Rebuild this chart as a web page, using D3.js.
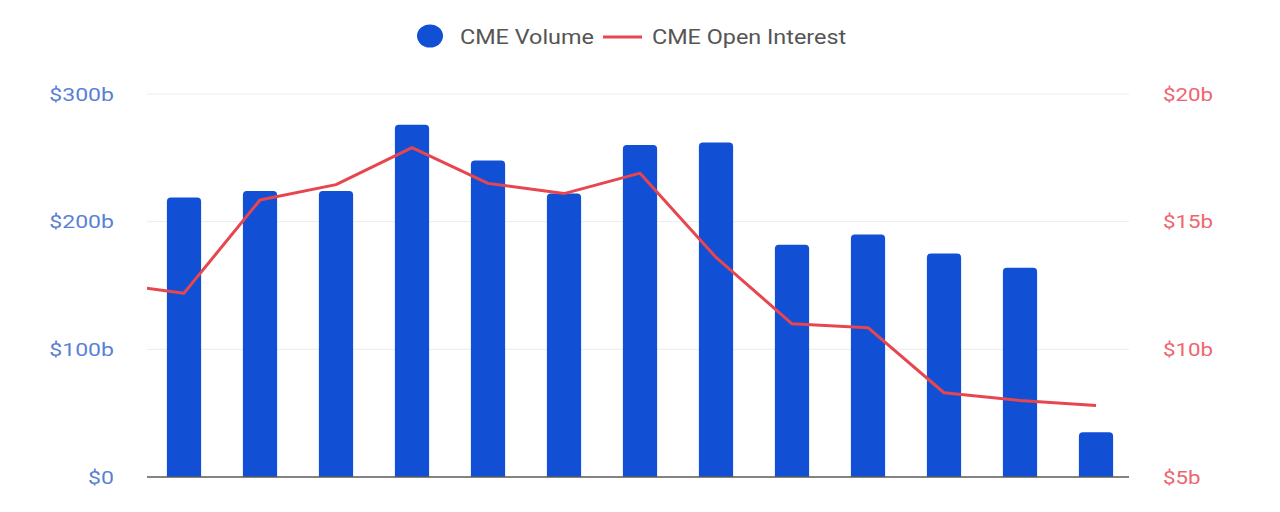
<!DOCTYPE html>
<html>
<head>
<meta charset="utf-8">
<script src="https://cdn.jsdelivr.net/npm/d3@7"></script>
<style>
html,body{margin:0;padding:0;background:#fff;}
svg{display:block;font-family:Roboto,"Noto Sans",sans-serif;}
</style>
</head>
<body>
<svg id="chart" width="1280" height="512"></svg>
<script>
// Categories (no visible x labels in the reference); "P0" is a period left of the view window
const categories = ["P0","P1","P2","P3","P4","P5","P6","P7","P8","P9","P10","P11","P12","P13"];
const volumeValues = [null,219,224,224,276,248,222,260,262,182,190,175,164,35];   // $b
const openInterestValues = [12.6,12.2,15.85,16.45,17.9,16.5,16.1,16.9,13.6,11.0,10.85,8.3,8.0,7.8]; // $b
const leftTicks = [0,100,200,300];
const rightTicks = [5,10,15,20];
const leftTickLabels = ["$0","$100b","$200b","$300b"];
const rightTickLabels = ["$5b","$10b","$15b","$20b"];
const seriesNames = ["CME Volume","CME Open Interest"];

const svg = d3.select("#chart");
const plotLeft = 147, plotRight = 1129, plotTop = 94, plotBottom = 477;
const barColor = "#1150d4", lineColor = "#e8464f";
const TX = 1.28; // horizontal stretch of the reference text

// band scale over visible categories; P0 sits one step to the left
const visible = categories.slice(1);
const x = d3.scaleBand().domain(visible).range([146,1134]).paddingInner(0.55).paddingOuter(0.275);
const step = x.step();
const cx = (c,i) => i===0 ? x(categories[1]) + x.bandwidth()/2 - step : x(c) + x.bandwidth()/2;

const yL = d3.scaleLinear().domain([0,300]).range([plotBottom,plotTop]);
const yR = d3.scaleLinear().domain([5,20]).range([plotBottom,plotTop]);

// gridlines
svg.append("g").selectAll("line").data(leftTicks.filter(d=>d>0)).join("line")
  .attr("x1",plotLeft).attr("x2",plotRight)
  .attr("y1",d=>yL(d)).attr("y2",d=>yL(d))
  .attr("stroke","#ebebeb").attr("stroke-width",1);

// left axis labels
svg.append("g").selectAll("text").data(leftTicks).join("text")
  .attr("transform",d=>`translate(114,${yL(d)+6.5}) scale(${TX},1)`)
  .attr("text-anchor","end").attr("font-size",18).attr("fill","#5b7fd8")
  .text((d,i)=>leftTickLabels[i]);

// right axis labels
svg.append("g").selectAll("text").data(rightTicks).join("text")
  .attr("transform",d=>`translate(1163,${yR(d)+6.5}) scale(1.24,1)`)
  .attr("text-anchor","start").attr("font-size",18).attr("fill","#ee6570")
  .text((d,i)=>rightTickLabels[i]);

// bars with rounded tops
const bw = x.bandwidth(), r = 4;
const barData = categories.map((c,i)=>({c,i,v:volumeValues[i]})).filter(d=>d.v!=null);
svg.append("g").selectAll("path").data(barData).join("path")
  .attr("fill",barColor)
  .attr("d",d=>{
    const x0 = x(d.c), y0 = yL(d.v), y1 = yL(0);
    return `M${x0},${y1}V${y0+r}Q${x0},${y0} ${x0+r},${y0}H${x0+bw-r}Q${x0+bw},${y0} ${x0+bw},${y0+r}V${y1}Z`;
  });

// baseline
svg.append("line").attr("x1",plotLeft).attr("x2",plotRight)
  .attr("y1",yL(0)).attr("y2",yL(0)).attr("stroke","#5a5a5a").attr("stroke-width",1.5);

// clip for line
svg.append("clipPath").attr("id","clip").append("rect")
  .attr("x",plotLeft).attr("y",0).attr("width",plotRight-plotLeft).attr("height",plotBottom);

const line = d3.line().x(d=>d.x).y(d=>yR(d.v));
svg.append("path")
  .datum(categories.map((c,i)=>({x:cx(c,i),v:openInterestValues[i]})))
  .attr("clip-path","url(#clip)")
  .attr("d",line).attr("fill","none").attr("stroke",lineColor)
  .attr("stroke-width",3).attr("stroke-linejoin","round");

// legend
const lg = svg.append("g");
lg.append("ellipse").attr("cx",430).attr("cy",36).attr("rx",13).attr("ry",11.5).attr("fill",barColor);
lg.append("text").attr("transform",`translate(460,44) scale(1.2,1)`)
  .attr("font-size",19.5).attr("fill","#555").text(seriesNames[0]);
lg.append("line").attr("x1",603).attr("x2",642).attr("y1",37).attr("y2",37)
  .attr("stroke",lineColor).attr("stroke-width",3);
lg.append("text").attr("transform",`translate(652,44) scale(1.2,1)`)
  .attr("font-size",19.5).attr("fill","#555").text(seriesNames[1]);
</script>
</body>
</html>
